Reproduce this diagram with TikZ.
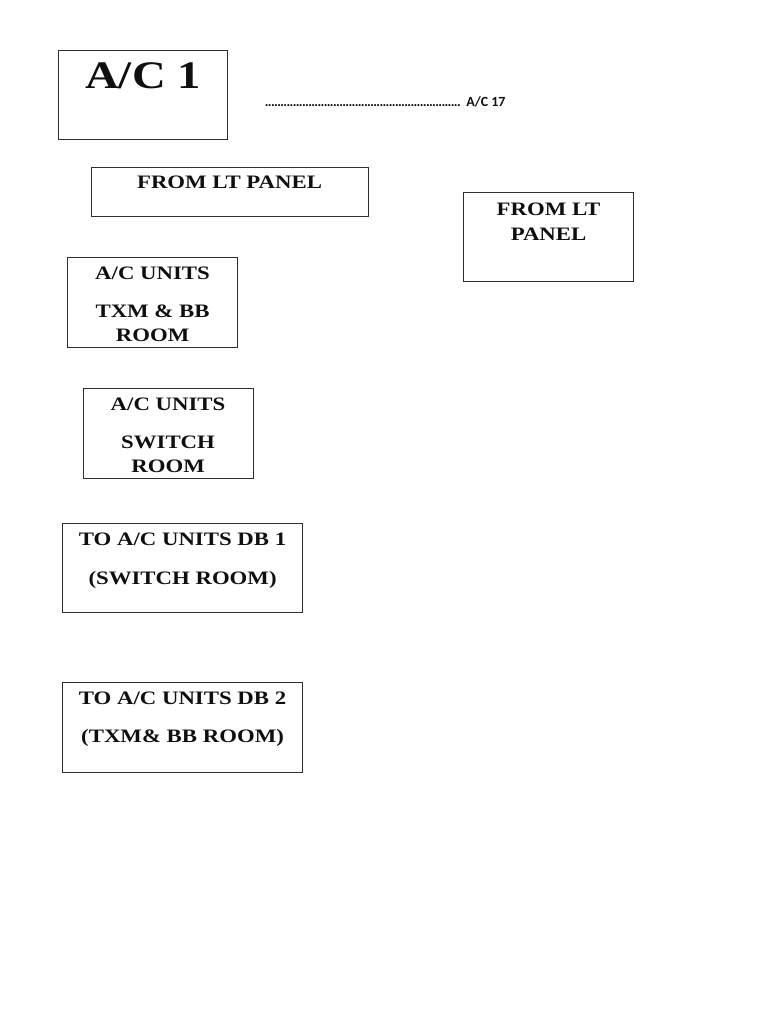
\documentclass[tikz,border=0pt]{standalone}
\usepackage{fontspec}
\usetikzlibrary{positioning}
\newfontfamily\rotulofont[FakeStretch=1.2]{Liberation Serif}
\newfontfamily\notafont{Carlito}
\definecolor{figBorde}{RGB}{45,45,45}
\definecolor{figTexto}{RGB}{15,15,15}
\tikzset{
  caja/.style={
    rectangle, draw=figBorde, line width=1.1pt, anchor=north west,
    inner sep=0pt
  },
  rotulo/.style={
    anchor=north, inner sep=0pt, align=center, text=figTexto,
    font=\rotulofont\bfseries\fontsize{19}{23.5}\selectfont
  },
  titulo/.style={
    rotulo, font=\rotulofont\bfseries\fontsize{39}{46}\selectfont
  },
  nota/.style={
    anchor=base west, inner sep=0pt, text=figTexto,
    font=\notafont\bfseries\fontsize{14}{16}\selectfont
  }
}

\begin{document}
\begin{tikzpicture}[x=1pt, y=-1pt]
  \useasboundingbox (0,0) rectangle (768,1024);

  \node[caja, minimum width=169pt, minimum height=89pt] (ac1) at (58,50) {};
  \node[titulo, below=12pt of ac1.north] (ac1txt) {A/C 1};

  \node[nota] (ac17) at (265,107)
    {\leaders\hbox to 3.1pt{\hss.\hss}\hskip 198pt\ A/C 17};

  \node[caja, minimum width=277pt, minimum height=49pt] (lt1) at (90.5,167) {};
  \node[rotulo, below=9pt of lt1.north] (lt1txt) {FROM LT PANEL};

  \node[caja, minimum width=170pt, minimum height=89pt] (lt2) at (463,192) {};
  \node[rotulo, below=11pt of lt2.north, font=\rotulofont\bfseries\fontsize{19}{25}\selectfont]
    (lt2txt) {FROM LT\\PANEL};

  \node[caja, minimum width=170pt, minimum height=90pt] (txm) at (67,257) {};
  \node[rotulo, below=10pt of txm.north] (txmtxt)
    {A/C UNITS\\[14.5pt]TXM \& BB\\ROOM};

  \node[caja, minimum width=170pt, minimum height=90pt] (sw) at (82.5,388) {};
  \node[rotulo, below=10pt of sw.north] (swtxt)
    {A/C UNITS\\[14.5pt]SWITCH\\ROOM};

  \node[caja, minimum width=240pt, minimum height=89pt] (db1) at (62,523) {};
  \node[rotulo, below=10pt of db1.north] (db1txt)
    {TO A/C UNITS DB 1\\[15pt](SWITCH ROOM)};

  \node[caja, minimum width=240pt, minimum height=90pt] (db2) at (62,682) {};
  \node[rotulo, below=10pt of db2.north] (db2txt)
    {TO A/C UNITS DB 2\\[14.5pt](TXM\& BB ROOM)};
\end{tikzpicture}
\end{document}
